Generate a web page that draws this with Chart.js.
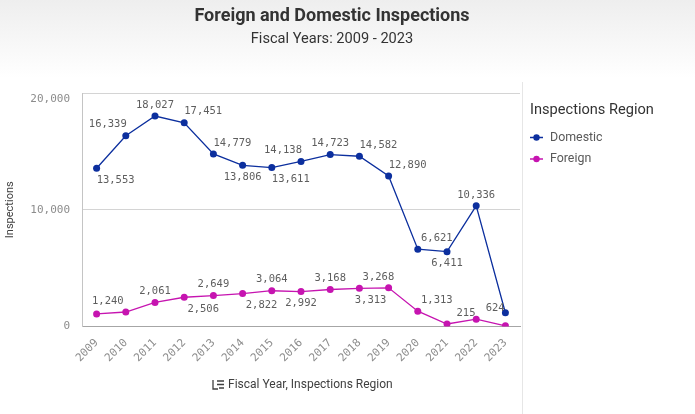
<!DOCTYPE html>
<html>
<head>
<meta charset="utf-8">
<script src="https://cdn.jsdelivr.net/npm/chart.js@4"></script>
<style>
  html, body { margin: 0; padding: 0; }
  body { width: 695px; height: 414px; background: linear-gradient(#eeeeee, #ffffff 78px); overflow: hidden; }
  canvas { display: block; }
</style>
</head>
<body>
<canvas id="grafico" width="695" height="414"></canvas>
<script>
const anos = ['2009', '2010', '2011', '2012', '2013', '2014', '2015', '2016', '2017', '2018', '2019', '2020', '2021', '2022', '2023'];
const domestic = [13553, 16339, 18027, 17451, 14779, 13806, 13611, 14138, 14723, 14582, 12890, 6621, 6411, 10336, 1180];
const foreign = [1080, 1240, 2061, 2506, 2649, 2822, 3064, 2992, 3168, 3268, 3313, 1313, 215, 624, 60];
const yTicks = [0, 10000, 20000];
const seriesNames = ['Domestic', 'Foreign'];

const corDomestic = '#0c2f9e';
const corForeign = '#c614b0';

// where each value label goes: a = above, b = below, +/- = shifted right/left, '' = hidden
const posDomestic = ['b+', 'a-', 'a', 'a+', 'a+', 'b', 'b+', 'a-', 'a', 'a+', 'a+', 'a+', 'b', 'a', ''];
const posForeign = ['', 'a-', 'a', 'b+', 'a', 'b+', 'a', 'b', 'a', 'a+', 'b-', 'a+', 'a+', 'a+', ''];

const fmt = v => v.toLocaleString('en-US');
const mono = 'DejaVu Sans Mono';
const sans = 'Roboto';

const extras = {
    id: 'extras',
    afterDraw(chart) {
        const ctx = chart.ctx;
        ctx.save();

        // titulo
        ctx.textAlign = 'center';
        ctx.textBaseline = 'middle';
        ctx.fillStyle = '#333333';
        ctx.font = `bold 18px ${sans}`;
        ctx.fillText('Foreign and Domestic Inspections', 332, 16);
        ctx.font = `14.6px ${sans}`;
        ctx.fillText('Fiscal Years: 2009 - 2023', 332, 39);

        // rotulos de valores
        ctx.font = `10.5px ${mono}`;
        ctx.fillStyle = '#5e5e5e';
        const posicoes = [posDomestic, posForeign];
        chart.data.datasets.forEach((ds, i) => {
            const meta = chart.getDatasetMeta(i);
            meta.data.forEach((pt, j) => {
                const p = posicoes[i][j];
                if (!p) return;
                let dx = 0;
                if (p.includes('+')) dx = 19;
                if (p.includes('-')) dx = -18;
                const dy = p[0] === 'a' ? -11 : 12;
                ctx.fillText(fmt(ds.data[j]), pt.x + dx, pt.y + dy);
            });
        });

        // separador da legenda
        ctx.strokeStyle = '#e6e6e6';
        ctx.lineWidth = 1;
        ctx.beginPath();
        ctx.moveTo(522.5, 82);
        ctx.lineTo(522.5, 414);
        ctx.stroke();

        // legenda
        ctx.textAlign = 'left';
        ctx.fillStyle = '#333333';
        ctx.font = `14.6px ${sans}`;
        ctx.fillText('Inspections Region', 530, 110);
        ctx.font = `12.4px ${sans}`;
        chart.data.datasets.forEach((ds, i) => {
            const y = 137.5 + i * 21.5;
            ctx.strokeStyle = ds.borderColor;
            ctx.lineWidth = 1.5;
            ctx.beginPath();
            ctx.moveTo(530, y);
            ctx.lineTo(543, y);
            ctx.stroke();
            ctx.fillStyle = ds.borderColor;
            ctx.beginPath();
            ctx.arc(536.5, y, 3.2, 0, Math.PI * 2);
            ctx.fill();
            ctx.fillStyle = '#595959';
            ctx.fillText(ds.label, 550, y);
        });

        // legenda do eixo x
        ctx.strokeStyle = '#404040';
        ctx.lineWidth = 1.3;
        ctx.beginPath();
        ctx.moveTo(213, 380);
        ctx.lineTo(213, 389);
        ctx.lineTo(218, 389);
        ctx.moveTo(217, 381); ctx.lineTo(224, 381);
        ctx.moveTo(217, 384.5); ctx.lineTo(224, 384.5);
        ctx.moveTo(219, 388); ctx.lineTo(224, 388);
        ctx.stroke();
        ctx.fillStyle = '#404040';
        ctx.font = `12px ${sans}`;
        ctx.fillText('Fiscal Year, Inspections Region', 228, 385);

        ctx.restore();
    }
};

const ctx = document.getElementById('grafico').getContext('2d');
new Chart(ctx, {
    type: 'line',
    data: {
        labels: anos,
        datasets: [
            {
                label: seriesNames[0],
                data: domestic,
                borderColor: corDomestic,
                backgroundColor: corDomestic,
                borderWidth: 1.3,
                pointRadius: 3.5,
                pointBorderWidth: 0,
                tension: 0,
            },
            {
                label: seriesNames[1],
                data: foreign,
                borderColor: corForeign,
                backgroundColor: corForeign,
                borderWidth: 1.3,
                pointRadius: 3.5,
                pointBorderWidth: 0,
                tension: 0,
            }
        ]
    },
    options: {
        responsive: false,
        animation: false,
        layout: { padding: { top: 93, right: 175, left: 0, bottom: 0 } },
        plugins: {
            legend: { display: false },
            title: { display: false },
            tooltip: { enabled: false }
        },
        scales: {
            x: {
                offset: true,
                grid: { display: false },
                border: { color: '#a6a6a6' },
                ticks: {
                    minRotation: 45,
                    maxRotation: 45,
                    color: '#8c8c8c',
                    padding: 2,
                    font: { family: mono, size: 11 }
                },
                afterFit: s => { s.height = 87.5; }
            },
            y: {
                min: 0,
                max: 20000,
                afterBuildTicks: s => { s.ticks = yTicks.map(v => ({ value: v })); },
                ticks: {
                    color: '#8c8c8c',
                    padding: 12,
                    font: { family: mono, size: 11 },
                    // top label sits just under its gridline, as in the original
                    callback: v => v === 20000 ? ['', fmt(v)] : fmt(v)
                },
                grid: { color: '#d4d4d4', drawTicks: false },
                border: { color: '#c4c4c4' },
                title: {
                    display: true,
                    text: 'Inspections',
                    color: '#404040',
                    font: { family: sans, size: 11 }
                },
                afterFit: s => { s.width = 82; }
            }
        }
    },
    plugins: [extras]
});
</script>
</body>
</html>
